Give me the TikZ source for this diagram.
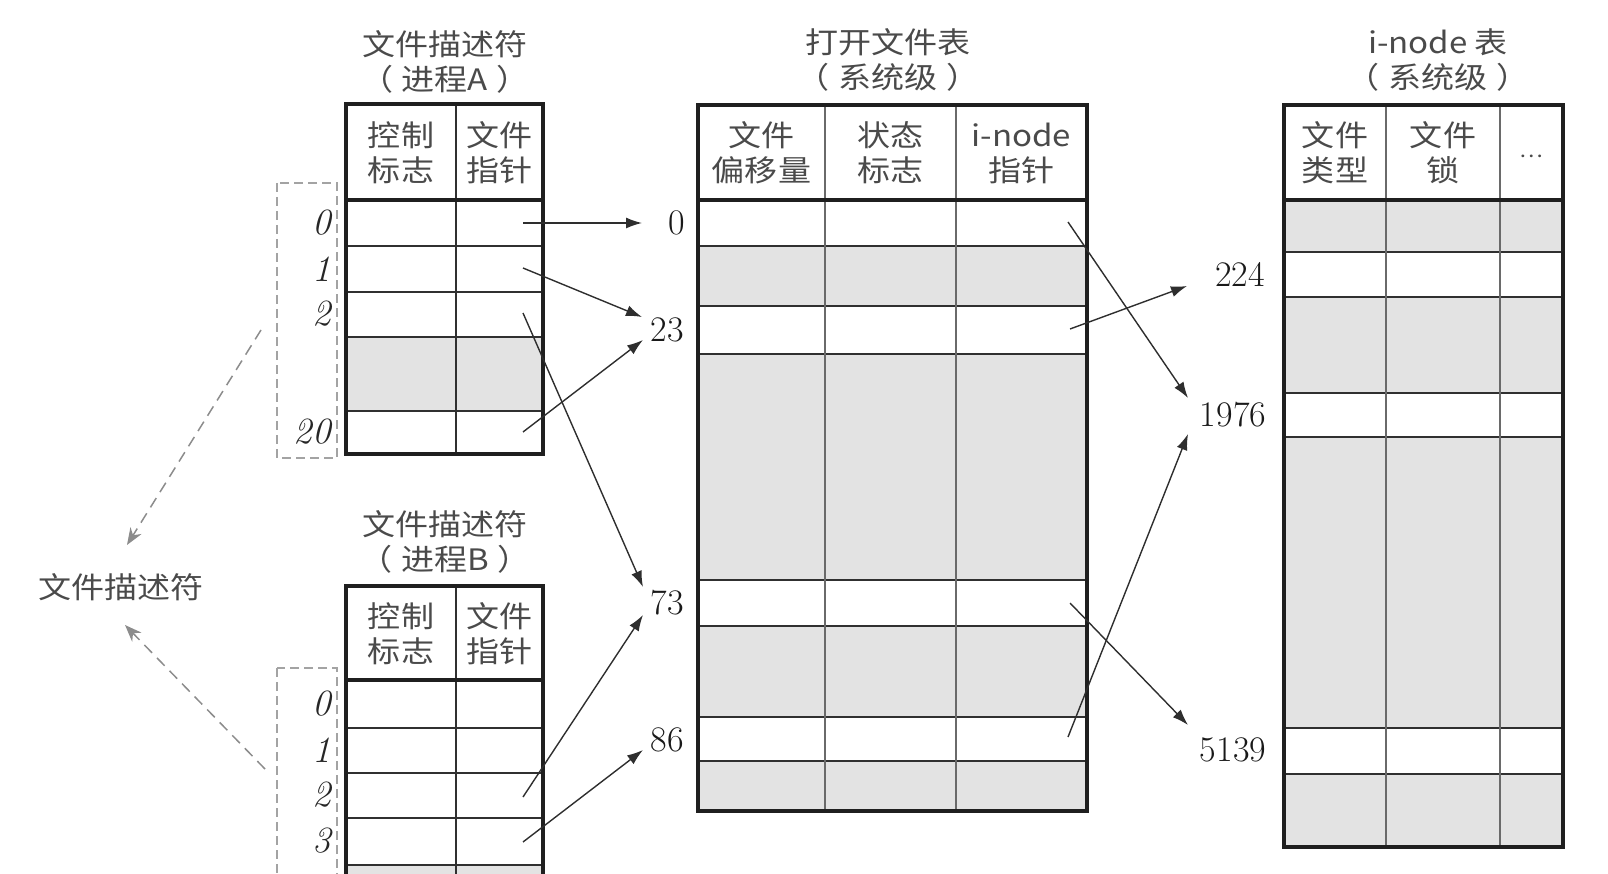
\documentclass[tikz,border=0pt]{standalone}
\usepackage{fontspec}
\newfontfamily\cjk[FakeStretch=1.12]{Noto Sans CJK SC}
\usetikzlibrary{arrows.meta}
\definecolor{txt}{HTML}{4A4A4A}
\definecolor{cellgray}{HTML}{E3E3E3}
\definecolor{rowcol}{HTML}{303030}
\definecolor{vcol}{HTML}{6A6A6A}
\definecolor{dashcol}{HTML}{8C8C8C}
\newcommand{\paren}[1]{（\hspace{0.3em}#1\hspace{0.3em}）}
\begin{document}
\begin{tikzpicture}[x=1pt,y=-1pt,
  border/.style={line width=3.6pt, draw=black!88, line join=miter},
  rowline/.style={line width=1.4pt, draw=rowcol},
  colline/.style={line width=1.4pt, draw=vcol},
  hdr/.style={font=\cjk\fontsize{29.5}{35}\selectfont, text=txt, align=center, inner sep=0pt},
  idx/.style={font=\fontsize{37}{40}\selectfont\itshape, text=black!85, anchor=east, inner sep=0pt},
  num/.style={font=\fontsize{36}{40}\selectfont, text=black!90, inner sep=0pt},
  ptr/.style={line width=1.4pt, draw=black!82, -{Latex[length=16pt,width=11pt]}},
  dptr/.style={line width=1.5pt, draw=dashcol, dash pattern=on 11pt off 7pt, -{Stealth[length=17pt,width=13pt]}},
  dbox/.style={line width=1.4pt, draw=dashcol!80, dash pattern=on 9pt off 5pt}
]
\useasboundingbox (0,0) rectangle (1608,874);
\clip (0,0) rectangle (1608,874);

% ---------- Table A ----------
\fill[cellgray] (346,337) rectangle (543,411);
\foreach \yy in {246,292,337,411} \draw[rowline] (346,\yy) -- (543,\yy);
\draw[line width=1.4pt, draw=rowcol] (456,104) -- (456,454);
\draw[border] (346,104) rectangle (543,454);
\draw[border] (346,200) -- (543,200);
\node[hdr] (tA) at (445,62) {文件描述符\\\paren{进程A}};
\node[hdr] (hA1) at (401,153) {控制\\标志};
\node[hdr] (hA2) at (499.5,153) {文件\\指针};
\draw[dbox] (277,183) rectangle (337,458);
\node[idx] (ia0) at (331,223) {0};
\node[idx] (ia1) at (331,269) {1};
\node[idx] (ia2) at (331,314) {2};
\node[idx] (ia20) at (331,432) {20};

% ---------- Table B ----------
\fill[cellgray] (346,865) rectangle (543,900);
\foreach \yy in {728,773,818,865} \draw[rowline] (346,\yy) -- (543,\yy);
\draw[line width=1.4pt, draw=rowcol] (456,586) -- (456,900);
\draw[border] (346,900) -- (346,586) -- (543,586) -- (543,900);
\draw[border] (346,680) -- (543,680);
\node[hdr] (tB) at (445,542) {文件描述符\\\paren{进程B}};
\node[hdr] (hB1) at (401,634) {控制\\标志};
\node[hdr] (hB2) at (499.5,634) {文件\\指针};
\draw[dbox] (277,668) rectangle (337,920);
\node[idx] (ib0) at (331,704) {0};
\node[idx] (ib1) at (331,750) {1};
\node[idx] (ib2) at (331,795) {2};
\node[idx] (ib3) at (331,841) {3};

% ---------- Open file table ----------
\fill[cellgray] (698,246) rectangle (1087,306);
\fill[cellgray] (698,354) rectangle (1087,580);
\fill[cellgray] (698,626) rectangle (1087,717);
\fill[cellgray] (698,761) rectangle (1087,811);
\foreach \yy in {246,306,354,580,626,717,761} \draw[rowline] (698,\yy) -- (1087,\yy);
\foreach \xx in {825,956} \draw[colline] (\xx,105) -- (\xx,811);
\draw[border] (698,105) rectangle (1087,811);
\draw[border] (698,200) -- (1087,200);
\node[hdr] (tM) at (888,60) {打开文件表\\\paren{系统级}};
\node[hdr] (hM1) at (761.5,153) {文件\\偏移量};
\node[hdr] (hM2) at (890.5,153) {状态\\标志};
\node[hdr] (hM3) at (1021.5,153) {i-node\\指针};

% ---------- i-node table ----------
\fill[cellgray] (1284,200) rectangle (1563,252);
\fill[cellgray] (1284,297) rectangle (1563,393);
\fill[cellgray] (1284,437) rectangle (1563,728);
\fill[cellgray] (1284,774) rectangle (1563,847);
\foreach \yy in {252,297,393,437,728,774} \draw[rowline] (1284,\yy) -- (1563,\yy);
\foreach \xx in {1386,1500} \draw[colline] (\xx,105) -- (\xx,847);
\draw[border] (1284,105) rectangle (1563,847);
\draw[border] (1284,200) -- (1563,200);
\node[hdr] (tI) at (1438,60) {i-node 表\\\paren{系统级}};
\node[hdr] (hI1) at (1335,153) {文件\\类型};
\node[hdr] (hI2) at (1443,153) {文件\\锁};
\node[font=\cjk\fontsize{20}{24}\selectfont, text=txt, inner sep=0pt] (hI3) at (1531.5,156) {…};

% ---------- number labels ----------
\node[num] (n0) at (677,223) {0};
\node[num] (n23) at (667,330) {23};
\node[num] (n73) at (667,603) {73};
\node[num] (n86) at (667,740) {86};
\node[num] (n224) at (1240,274) {224};
\node[num] (n1976) at (1233,415) {1976};
\node[num] (n5139) at (1233,750) {5139};

% ---------- pointer coordinates ----------
\coordinate (sa0) at (523,223);  \coordinate (ea0) at (642,223);
\coordinate (sa1) at (523,268);  \coordinate (ea1) at (642,317);
\coordinate (sa2) at (523,313);  \coordinate (ea2) at (643,587);
\coordinate (sa20) at (523,432); \coordinate (ea20) at (643,340);
\coordinate (sb2) at (523,797);  \coordinate (eb2) at (643,615);
\coordinate (sb3) at (523,842);  \coordinate (eb3) at (643,750);
\coordinate (sm0) at (1068,222); \coordinate (em0) at (1188,398);
\coordinate (sm23) at (1070,329); \coordinate (em23) at (1187,286);
\coordinate (sm73) at (1070,603); \coordinate (em73) at (1188,725);
\coordinate (sm86) at (1068,737); \coordinate (em86) at (1188,434);

\draw[ptr] (sa0) -- (ea0);
\draw[ptr] (sa1) -- (ea1);
\draw[ptr] (sa2) -- (ea2);
\draw[ptr] (sa20) -- (ea20);
\draw[ptr] (sb2) -- (eb2);
\draw[ptr] (sb3) -- (eb3);
\draw[ptr] (sm0) -- (em0);
\draw[ptr] (sm23) -- (em23);
\draw[ptr] (sm73) -- (em73);
\draw[ptr] (sm86) -- (em86);

% ---------- file descriptor label ----------
\node[hdr] (fd) at (121,587) {文件描述符};
\coordinate (dA) at (261,330);
\coordinate (dB) at (265,769);
\coordinate (fdA) at (127,545);
\coordinate (fdB) at (125,625);
\draw[dptr] (dA) -- (fdA);
\draw[dptr] (dB) -- (fdB);
\end{tikzpicture}
\end{document}
